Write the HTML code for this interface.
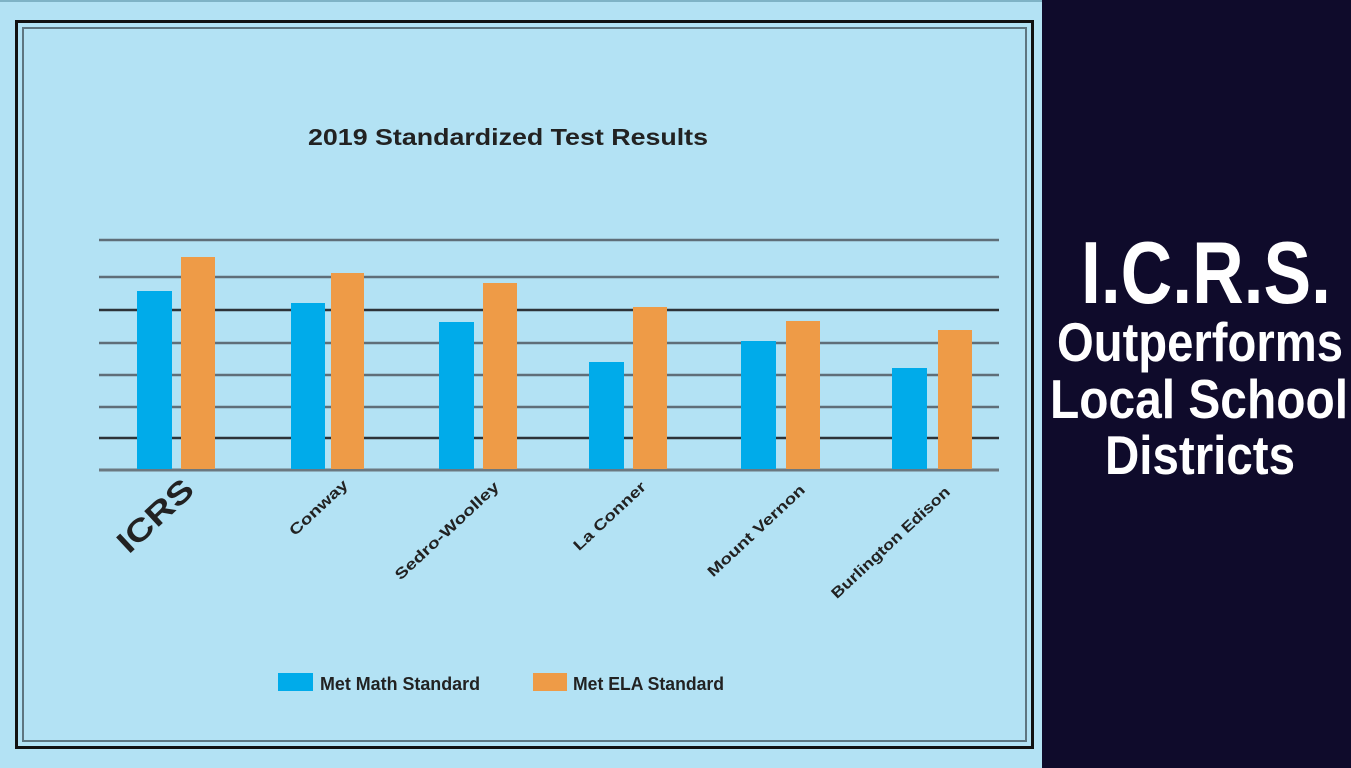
<!DOCTYPE html>
<html><head><meta charset="utf-8"><style>
html,body{margin:0;padding:0;width:1351px;height:768px;overflow:hidden;background:#b3e2f4}
svg{display:block}
</style></head><body>
<svg width="1351" height="768" viewBox="0 0 1351 768" xmlns="http://www.w3.org/2000/svg" font-family="Liberation Sans, sans-serif">
<rect x="0" y="0" width="1351" height="768" fill="#b3e2f4"/>
<rect x="0" y="0" width="1042" height="2" fill="#7fb3c6"/>
<rect x="16.5" y="21.5" width="1016" height="726" fill="none" stroke="#111" stroke-width="3"/>
<rect x="23" y="28" width="1003" height="713" fill="none" stroke="#5d7580" stroke-width="2"/>
<rect x="1042" y="0" width="309" height="768" fill="#0f0b2b"/>
<g fill="#fff" font-weight="bold" text-anchor="middle">
<text x="1206" y="303" font-size="88" textLength="250" lengthAdjust="spacingAndGlyphs">I.C.R.S.</text>
<text x="1200" y="361" font-size="55" textLength="286" lengthAdjust="spacingAndGlyphs">Outperforms</text>
<text x="1199" y="418" font-size="55" textLength="298" lengthAdjust="spacingAndGlyphs">Local School</text>
<text x="1200" y="474" font-size="55" textLength="190" lengthAdjust="spacingAndGlyphs">Districts</text>
</g>
<text x="508" y="145" font-size="23" font-weight="bold" fill="#222" text-anchor="middle" textLength="400" lengthAdjust="spacingAndGlyphs">2019 Standardized Test Results</text>
<g stroke="#5f6e78" stroke-width="2.5">
<line x1="99" x2="999" y1="240" y2="240"/>
<line x1="99" x2="999" y1="277" y2="277"/>
<line x1="99" x2="999" y1="310" y2="310" stroke="#2d3338"/>
<line x1="99" x2="999" y1="343" y2="343"/>
<line x1="99" x2="999" y1="375" y2="375"/>
<line x1="99" x2="999" y1="407" y2="407"/>
<line x1="99" x2="999" y1="438" y2="438" stroke="#2d3338"/>
<line x1="99" x2="999" y1="470" y2="470" stroke="#6b7880" stroke-width="3"/>
</g>
<g fill="#00abea">
<rect x="137" y="291" width="35" height="178"/>
<rect x="291" y="303" width="34" height="166"/>
<rect x="439" y="322" width="35" height="147"/>
<rect x="589" y="362" width="35" height="107"/>
<rect x="741" y="341" width="35" height="128"/>
<rect x="892" y="368" width="35" height="101"/>
</g>
<g fill="#ee9b47">
<rect x="181" y="257" width="34" height="212"/>
<rect x="331" y="273" width="33" height="196"/>
<rect x="483" y="283" width="34" height="186"/>
<rect x="633" y="307" width="34" height="162"/>
<rect x="786" y="321" width="34" height="148"/>
<rect x="938" y="330" width="34" height="139"/>
</g>
<g fill="#222" font-weight="bold" text-anchor="end">
<text transform="translate(196,492) rotate(-43)" font-size="31" textLength="92" lengthAdjust="spacingAndGlyphs">ICRS</text>
<text transform="translate(349,486) rotate(-43)" font-size="15" textLength="74" lengthAdjust="spacingAndGlyphs">Conway</text>
<text transform="translate(500,488) rotate(-43)" font-size="15" textLength="136" lengthAdjust="spacingAndGlyphs">Sedro-Woolley</text>
<text transform="translate(647,488) rotate(-43)" font-size="15" textLength="93" lengthAdjust="spacingAndGlyphs">La Conner</text>
<text transform="translate(806,491) rotate(-43)" font-size="15" textLength="127" lengthAdjust="spacingAndGlyphs">Mount Vernon</text>
<text transform="translate(951,493) rotate(-43)" font-size="15" textLength="156" lengthAdjust="spacingAndGlyphs">Burlington Edison</text>
</g>
<rect x="278" y="673" width="35" height="18" fill="#00abea"/>
<rect x="533" y="673" width="34" height="18" fill="#ee9b47"/>
<g fill="#222" font-size="18" font-weight="bold">
<text x="320" y="690" textLength="160" lengthAdjust="spacingAndGlyphs">Met Math Standard</text>
<text x="573" y="690" textLength="151" lengthAdjust="spacingAndGlyphs">Met ELA Standard</text>
</g>
</svg>
</body></html>
